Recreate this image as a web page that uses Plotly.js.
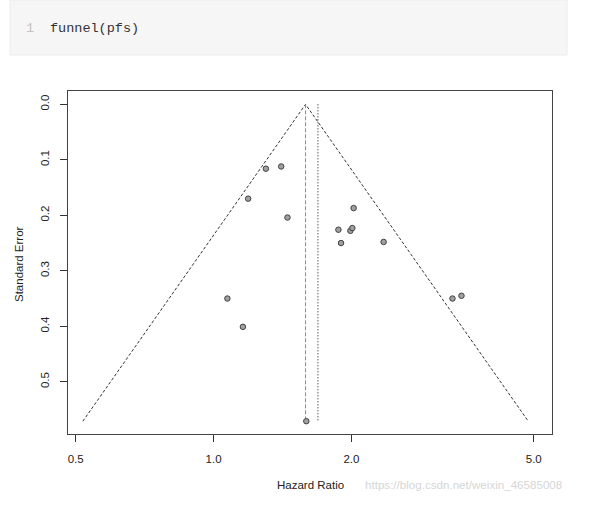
<!DOCTYPE html>
<html>
<head>
<meta charset="utf-8">
<script src="https://cdn.plot.ly/plotly-3.0.1.min.js"></script>
<style>
html, body { margin: 0; padding: 0; background: #ffffff; overflow: hidden; }
#chart { width: 589px; height: 505px; }
</style>
</head>
<body>
<div id="chart"></div>
<script>
// ---- data ----
var hazardRatio = [1.301, 1.405, 1.190, 1.450, 2.022, 1.873, 1.989, 2.009, 1.898, 2.351, 1.072, 1.159, 1.594, 3.323, 3.477];
var standardError = [0.116, 0.112, 0.170, 0.204, 0.187, 0.226, 0.228, 0.223, 0.250, 0.248, 0.350, 0.401, 0.571, 0.350, 0.345];
var commonEffect = 1.588;   // fixed/common effect estimate (funnel centre)
var randomEffect = 1.690;   // random effects estimate
var xTickVals = [0.5, 1, 2, 5];
var xTickText = ["0.5", "1.0", "2.0", "5.0"];
var yTickVals = [0, 0.1, 0.2, 0.3, 0.4, 0.5];
var yTickText = ["0.0", "0.1", "0.2", "0.3", "0.4", "0.5"];
var codeLineNo = "1";
var codeText = "funnel(pfs)";
var xTitle = "Hazard Ratio";
var yTitle = "Standard Error";
var watermark = "https://blog.csdn.net/weixin_46585008";

// ---- layout geometry (pixels) ----
var W = 589, H = 505;
var L = 68, R = 552, T = 91, B = 434;
function px(x) { return (x - L) / (R - L); }
function py(y) { return (B - y) / (B - T); }

var seMax = Math.max.apply(null, standardError);
var lnC = Math.log(commonEffect);
var funnelLeft = Math.exp(lnC - 1.96 * seMax);
var funnelRight = Math.exp(lnC + 1.96 * seMax);

var traces = [
  { // funnel
    x: [funnelLeft, commonEffect, funnelRight],
    y: [seMax, 0, seMax],
    mode: 'lines', type: 'scatter', hoverinfo: 'skip',
    line: { color: '#333333', width: 1, dash: '3px,2px' }
  },
  { // common effect line
    x: [commonEffect, commonEffect],
    y: [0, seMax],
    mode: 'lines', type: 'scatter', hoverinfo: 'skip',
    line: { color: '#8a8a8a', width: 1, dash: '4px,2px' }
  },
  { // random effects line
    x: [randomEffect, randomEffect],
    y: [0, seMax],
    mode: 'lines', type: 'scatter', hoverinfo: 'skip',
    line: { color: '#111111', width: 1, dash: '1px,2px' }
  },
  { // studies
    x: hazardRatio,
    y: standardError,
    mode: 'markers', type: 'scatter',
    marker: { symbol: 'circle', size: 5.5, color: '#a0a0a0', line: { color: '#404040', width: 1 } }
  }
];

var tickFont = { family: 'Liberation Sans, Arial, sans-serif', size: 11.5, color: '#222222' };

var layout = {
  width: W, height: H,
  margin: { l: L, r: W - R, t: T, b: H - B, pad: 0 },
  paper_bgcolor: '#ffffff', plot_bgcolor: '#ffffff',
  showlegend: false,
  xaxis: {
    type: 'log',
    range: [Math.log10(0.4812), Math.log10(5.48)],
    tickmode: 'array', tickvals: xTickVals, ticktext: xTickText,
    ticks: 'outside', ticklen: 7, tickwidth: 1, tickcolor: '#333333',
    showgrid: false, zeroline: false,
    showline: true, linecolor: '#444444', linewidth: 1, mirror: true,
    tickfont: tickFont, ticklabelstandoff: 7
  },
  yaxis: {
    range: [0.5941, -0.024],
    tickmode: 'array', tickvals: yTickVals, ticktext: yTickText,
    ticks: 'outside', ticklen: 7, tickwidth: 1, tickcolor: '#333333',
    tickangle: -90,
    showgrid: false, zeroline: false,
    showline: true, linecolor: '#444444', linewidth: 1, mirror: true,
    tickfont: tickFont, ticklabelstandoff: 6
  },
  shapes: [
    { type: 'rect', xref: 'paper', yref: 'paper',
      x0: px(10), x1: px(567), y0: py(0), y1: py(55),
      fillcolor: '#f6f6f6', line: { color: '#ececec', width: 1 }, layer: 'below' }
  ],
  annotations: [
    { xref: 'paper', yref: 'paper', x: px(30), y: py(28), text: codeLineNo, showarrow: false,
      xanchor: 'center', yanchor: 'middle',
      font: { family: 'Liberation Mono, DejaVu Sans Mono, monospace', size: 13.5, color: '#c4c4c4' } },
    { xref: 'paper', yref: 'paper', x: px(48), y: py(28), text: codeText, showarrow: false,
      xanchor: 'left', yanchor: 'middle',
      font: { family: 'Liberation Mono, DejaVu Sans Mono, monospace', size: 13.5, color: '#333333' } },
    { xref: 'paper', yref: 'paper', x: px(310), y: py(485), text: xTitle, showarrow: false,
      xanchor: 'center', yanchor: 'middle', font: tickFont },
    { xref: 'paper', yref: 'paper', x: px(19), y: py(264), text: yTitle, showarrow: false,
      textangle: -90, xanchor: 'center', yanchor: 'middle', font: tickFont },
    { xref: 'paper', yref: 'paper', x: px(363), y: py(484), text: watermark, showarrow: false,
      xanchor: 'left', yanchor: 'middle',
      font: { family: 'Liberation Sans, Arial, sans-serif', size: 11.6, color: '#d6d6d6' } }
  ]
};

Plotly.newPlot('chart', traces, layout, { displayModeBar: false, staticPlot: true });
</script>
</body>
</html>
